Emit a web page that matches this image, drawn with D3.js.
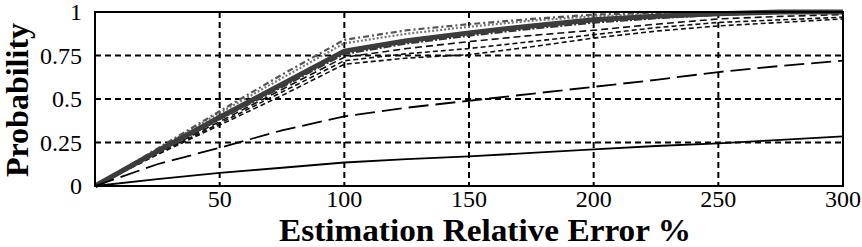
<!DOCTYPE html>
<html>
<head>
<meta charset="utf-8">
<script src="https://cdn.jsdelivr.net/npm/d3@7"></script>
<style>
  body { margin: 0; background: #fff; }
</style>
</head>
<body>
<div id="chart"></div>
<script>
const width = 862,
    height = 247;

// data
const errorPct = [0, 25, 50, 75, 100, 125, 150, 175, 200, 225, 250, 275, 300];
const topDashDot = [0, 0.215, 0.43, 0.64, 0.84, 0.895, 0.93, 0.96, 0.985, 0.995, 1, 1, 1];
const topDotted = [0, 0.21, 0.42, 0.62, 0.82, 0.875, 0.915, 0.95, 0.975, 0.99, 1, 1, 1];
const thickSolid = [0, 0.2, 0.395, 0.585, 0.775, 0.835, 0.88, 0.92, 0.955, 0.975, 0.99, 1, 1];
const midDashDot = [0, 0.195, 0.385, 0.57, 0.76, 0.82, 0.865, 0.905, 0.94, 0.965, 0.985, 0.995, 1];
const shortDashA = [0, 0.19, 0.37, 0.555, 0.74, 0.79, 0.83, 0.865, 0.895, 0.93, 0.96, 0.975, 0.985];
const shortDashB = [0, 0.185, 0.36, 0.54, 0.72, 0.76, 0.79, 0.83, 0.87, 0.91, 0.94, 0.955, 0.97];
const shortDashC = [0, 0.18, 0.35, 0.52, 0.70, 0.735, 0.755, 0.8, 0.85, 0.89, 0.92, 0.94, 0.96];
const longDash = [0, 0.125, 0.22, 0.32, 0.40, 0.45, 0.49, 0.53, 0.57, 0.61, 0.655, 0.69, 0.72];
const bottomSolid = [0, 0.04, 0.075, 0.105, 0.135, 0.155, 0.17, 0.19, 0.21, 0.23, 0.245, 0.265, 0.285];

const xTicks = [50, 100, 150, 200, 250, 300];
const yTicks = [0, 0.25, 0.5, 0.75, 1];
const yTickLabels = ["0", "0.25", "0.5", "0.75", "1"];

const plotLeft = 95, plotRight = 843, plotTop = 12, plotBottom = 186;
const serif = "'Liberation Serif', 'Times New Roman', Times, serif";

const svg = d3.select("#chart")
  .append("svg")
  .attr("width", width)
  .attr("height", height)
  .attr("font-family", serif);

const x = d3.scaleLinear().domain([0, 300]).range([plotLeft, plotRight]);
const y = d3.scaleLinear().domain([0, 1]).range([plotBottom, plotTop]);

// grid
svg.append('g')
  .selectAll('line')
  .data(xTicks.filter(d => d < 300))
  .enter().append('line')
  .attr('x1', d => x(d)).attr('x2', d => x(d))
  .attr('y1', plotTop).attr('y2', plotBottom)
  .attr('stroke', '#000').attr('stroke-width', 2)
  .attr('stroke-dasharray', '6,4');

svg.append('g')
  .selectAll('line')
  .data(yTicks.filter(d => d > 0 && d < 1))
  .enter().append('line')
  .attr('x1', plotLeft).attr('x2', plotRight)
  .attr('y1', d => y(d)).attr('y2', d => y(d))
  .attr('stroke', '#000').attr('stroke-width', 2)
  .attr('stroke-dasharray', '6,4');

// series
const series = [
  {v: shortDashC, stroke: '#111', w: 1.6, dash: '5,3'},
  {v: shortDashB, stroke: '#111', w: 1.6, dash: '5,3'},
  {v: shortDashA, stroke: '#111', w: 1.6, dash: '7,4'},
  {v: topDotted, stroke: '#777', w: 2.2, dash: '2,2'},
  {v: topDashDot, stroke: '#555', w: 2.2, dash: '6,3,2,3'},
  {v: midDashDot, stroke: '#333', w: 2.5, dash: '8,2,2,2'},
  {v: thickSolid, stroke: '#3c3c3c', w: 5, dash: null},
  {v: longDash, stroke: '#000', w: 1.8, dash: '20,7'},
  {v: bottomSolid, stroke: '#000', w: 1.8, dash: null}
];

const line = d3.line()
  .x((d, i) => x(errorPct[i]))
  .y(d => y(d));

svg.append('g')
  .selectAll('path')
  .data(series)
  .enter().append('path')
  .attr('d', d => line(d.v))
  .attr('fill', 'none')
  .attr('stroke', d => d.stroke)
  .attr('stroke-width', d => d.w)
  .attr('stroke-dasharray', d => d.dash);

// frame
svg.append('rect')
  .attr('x', plotLeft).attr('y', plotTop)
  .attr('width', plotRight - plotLeft).attr('height', plotBottom - plotTop)
  .attr('fill', 'none').attr('stroke', '#000').attr('stroke-width', 2);

// tick labels
svg.append('g')
  .selectAll('text')
  .data(xTicks)
  .enter().append('text')
  .attr('x', d => x(d))
  .attr('y', 207)
  .attr('text-anchor', 'middle')
  .attr('font-size', 24)
  .text(d => d);

svg.append('g')
  .selectAll('text')
  .data(yTicks)
  .enter().append('text')
  .attr('x', 82)
  .attr('y', d => y(d) + 8)
  .attr('text-anchor', 'end')
  .attr('font-size', 24)
  .text((d, i) => yTickLabels[i]);

// axis titles
svg.append('text')
  .attr('x', 485)
  .attr('y', 241)
  .attr('text-anchor', 'middle')
  .attr('font-size', 32)
  .attr('font-weight', 'bold')
  .attr('textLength', 412)
  .attr('lengthAdjust', 'spacingAndGlyphs')
  .text('Estimation Relative Error %');

svg.append('text')
  .attr('transform', 'translate(28,100) rotate(-90)')
  .attr('text-anchor', 'middle')
  .attr('font-size', 32)
  .attr('font-weight', 'bold')
  .text('Probability');
</script>
</body>
</html>
